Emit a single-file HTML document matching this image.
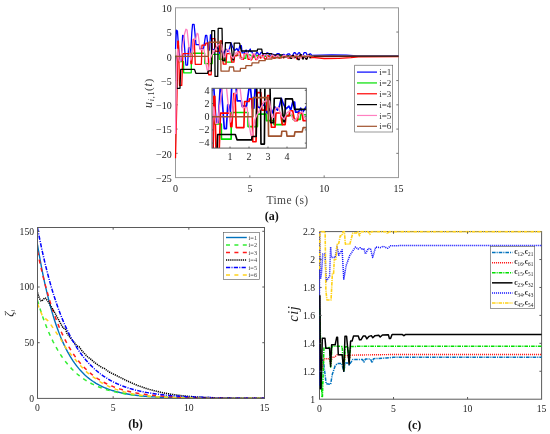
<!DOCTYPE html>
<html><head><meta charset="utf-8"><title>Figure</title>
<style>
html,body{margin:0;padding:0;background:#fff;}
body{width:550px;height:434px;position:relative;overflow:hidden;font-family:"Liberation Serif",serif;}
svg text{font-family:"Liberation Serif",serif;}
</style></head><body>
<svg width="550" height="434" viewBox="0 0 550 434" style="position:absolute;left:0;top:0">
<defs><clipPath id="ca"><rect x="174.5" y="7.3" width="224.5" height="170.8"/></clipPath>
<clipPath id="ci"><rect x="212" y="88.3" width="94.3" height="59.8"/></clipPath>
<clipPath id="cb"><rect x="37.5" y="226.5" width="228" height="173"/></clipPath>
<clipPath id="cc"><rect x="319" y="230.5" width="223.5" height="170"/></clipPath>
</defs>
<rect x="175.5" y="7.8" width="223" height="169.8" fill="none" stroke="#999" stroke-width="1"/>
<line x1="249.833" y1="177.6" x2="249.833" y2="175.4" stroke="#777" stroke-width="1"/>
<line x1="249.833" y1="7.8" x2="249.833" y2="10" stroke="#777" stroke-width="1"/>
<line x1="324.167" y1="177.6" x2="324.167" y2="175.4" stroke="#777" stroke-width="1"/>
<line x1="324.167" y1="7.8" x2="324.167" y2="10" stroke="#777" stroke-width="1"/>
<line x1="175.5" y1="32.0571" x2="177.7" y2="32.0571" stroke="#777" stroke-width="1"/>
<line x1="398.5" y1="32.0571" x2="396.3" y2="32.0571" stroke="#777" stroke-width="1"/>
<line x1="175.5" y1="56.3143" x2="177.7" y2="56.3143" stroke="#777" stroke-width="1"/>
<line x1="398.5" y1="56.3143" x2="396.3" y2="56.3143" stroke="#777" stroke-width="1"/>
<line x1="175.5" y1="80.5714" x2="177.7" y2="80.5714" stroke="#777" stroke-width="1"/>
<line x1="398.5" y1="80.5714" x2="396.3" y2="80.5714" stroke="#777" stroke-width="1"/>
<line x1="175.5" y1="104.829" x2="177.7" y2="104.829" stroke="#777" stroke-width="1"/>
<line x1="398.5" y1="104.829" x2="396.3" y2="104.829" stroke="#777" stroke-width="1"/>
<line x1="175.5" y1="129.086" x2="177.7" y2="129.086" stroke="#777" stroke-width="1"/>
<line x1="398.5" y1="129.086" x2="396.3" y2="129.086" stroke="#777" stroke-width="1"/>
<line x1="175.5" y1="153.343" x2="177.7" y2="153.343" stroke="#777" stroke-width="1"/>
<line x1="398.5" y1="153.343" x2="396.3" y2="153.343" stroke="#777" stroke-width="1"/>
<g clip-path="url(#ca)">
<polyline points="175.50,49.04 176.39,30.12 177.43,31.09 179.51,60.68 181.15,60.68 182.64,35.45 183.68,35.94 185.91,65.05 187.54,65.05 188.58,47.58 189.33,47.58 189.92,52.43 190.66,52.43 191.85,32.06 192.60,24.29 194.08,24.29 196.02,44.67 199.35,44.67 199.82,48.55 203.54,48.55 205.55,35.45 206.79,35.45 208.34,50.01 209.54,50.01 210.44,34.97 211.33,34.97 212.37,49.04 214.60,50.01 215.34,46.61 218.32,48.55 219.80,53.89 222.03,50.49 223.52,53.89 225.75,49.04 227.98,51.46 229.47,48.55 230.95,42.73 232.44,46.61 234.67,50.49 236.90,48.55 238.39,51.46 239.87,45.64 241.36,45.64 242.10,52.92 244.33,52.92 246.12,50.01 247.31,53.40 248.79,51.46 250.28,49.04 250.58,51.52 251.25,51.57 251.93,51.62 252.61,53.83 253.29,56.54 253.96,56.49 254.64,56.43 255.32,56.02 255.99,53.74 256.67,52.32 257.35,52.30 258.03,53.32 258.70,54.46 259.38,54.85 260.06,54.20 260.74,52.99 261.41,52.34 262.09,52.39 262.77,53.58 263.44,55.41 264.12,55.71 264.80,55.66 265.48,55.61 266.15,54.29 266.83,52.87 267.51,53.00 268.19,53.13 268.86,53.70 269.54,54.79 270.22,55.32 270.89,55.15 271.57,54.56 272.25,54.07 272.93,54.14 273.60,54.81 274.28,55.70 274.96,55.75 275.64,55.76 276.31,55.01 276.99,53.70 277.67,53.61 278.34,53.63 279.02,53.65 279.70,54.70 280.38,55.79 281.05,55.80 281.73,55.80 282.41,55.19 283.09,54.52 283.76,54.35 284.44,54.69 285.12,55.24 285.79,55.53 286.47,55.27 287.15,54.53 287.83,53.96 288.50,53.98 289.18,53.83 289.86,54.43 290.53,55.72 291.21,55.73 291.89,55.70 292.57,55.67 293.24,54.27 293.92,52.94 294.60,52.67 295.28,52.94 295.95,53.93 296.63,54.67 297.31,54.58 297.98,53.73 298.66,52.81 299.34,52.60 300.02,53.43 300.69,55.00 301.37,55.72 302.05,55.70 302.73,55.68 303.40,54.53 304.08,52.65 304.76,52.64 305.43,52.66 306.11,52.81 306.79,54.29 307.47,55.29 308.14,55.41 308.82,54.81 309.50,54.06 310.18,53.76 310.85,54.19 311.53,55.09 312.27,55.34 331.60,54.86 346.47,55.10 356.87,55.83 398.50,55.97" fill="none" stroke="#0000ff" stroke-width="1.3" stroke-linejoin="round" />
<polyline points="175.50,56.31 177.73,56.31 178.18,61.65 183.53,61.65 183.68,72.81 191.26,72.81 191.41,53.26 204.62,53.26 204.78,63.59 212.22,63.59 212.37,54.37 219.06,54.37 219.36,59.23 225.01,59.23 225.30,62.14 231.70,62.14 231.99,55.34 239.87,55.34 240.17,58.25 245.82,58.25 246.12,54.86 250.28,54.86 252.81,57.77 257.27,55.34 261.73,57.28 267.67,55.83 273.62,56.80 279.57,56.07 294.43,56.31 398.50,56.31" fill="none" stroke="#00e000" stroke-width="1.3" stroke-linejoin="round" />
<polyline points="175.50,158.19 176.99,95.13 177.73,41.27 178.47,41.27 179.51,85.42 181.74,85.42 182.93,53.65 190.37,53.65 190.96,63.59 191.85,63.59 193.34,39.33 194.23,39.33 195.27,64.32 201.37,64.32 201.99,45.16 205.55,45.16 205.86,43.22 208.03,43.22 208.65,74.75 211.18,74.75 212.07,38.61 214.90,38.61 215.79,51.46 219.06,51.46 220.25,40.79 221.74,40.79 223.22,64.08 226.05,64.08 226.79,53.60 230.36,53.60 231.70,62.14 233.93,62.14 234.67,55.83 236.90,55.83 237.64,51.95 239.87,51.95 241.36,59.23 243.59,59.23 244.33,53.65 247.31,53.65 248.05,59.23 250.28,59.23 250.58,59.03 251.16,60.09 251.75,59.56 252.33,57.32 252.91,54.63 253.50,54.68 254.08,54.73 254.67,54.97 255.25,58.12 255.84,59.70 256.42,59.65 257.01,59.60 257.59,58.20 258.18,56.25 258.76,55.50 259.35,56.06 259.93,57.25 260.51,58.05 261.10,57.83 261.68,56.68 262.27,55.40 262.85,55.45 263.44,55.67 264.02,57.47 264.61,58.97 265.19,58.92 265.78,58.87 266.36,58.55 266.94,56.66 267.53,55.83 268.11,55.85 268.70,55.86 269.28,56.93 269.87,57.77 270.45,57.88 271.04,57.36 271.62,56.69 272.21,56.45 272.79,56.93 273.37,57.92 273.96,58.38 274.54,58.36 275.13,58.27 275.71,56.85 276.30,55.91 276.88,55.92 277.47,55.92 278.05,56.30 278.64,57.65 279.22,58.24 279.80,58.23 280.39,57.86 280.97,57.04 281.56,56.61 282.14,56.79 282.73,57.37 283.31,57.86 283.90,57.81 284.48,57.10 285.07,56.06 285.65,55.96 286.24,55.96 286.82,56.06 287.40,57.35 287.99,58.02 288.57,58.02 289.16,58.10 289.74,57.63 290.33,56.51 290.91,55.91 291.50,56.04 292.08,56.77 292.67,57.51 293.25,57.69 293.83,57.15 294.42,56.24 295.00,55.77 295.59,56.02 296.17,57.39 296.76,58.93 297.34,58.98 297.93,58.97 298.51,58.69 299.10,56.58 299.68,55.65 300.26,55.67 300.85,55.68 301.43,56.78 302.02,58.07 302.60,58.50 303.19,58.02 303.77,57.17 304.36,56.66 304.94,56.94 305.53,57.88 306.11,58.73 306.69,58.70 307.28,58.49 307.86,56.98 308.45,55.85 309.03,55.86 309.62,55.86 310.20,56.22 310.79,57.89 312.27,57.28 324.17,58.50 339.03,58.35 350.93,57.53 358.36,56.80 398.50,56.70" fill="none" stroke="#ff0000" stroke-width="1.3" stroke-linejoin="round" />
<polyline points="175.50,56.31 176.24,56.31 176.69,88.33 179.96,88.33 180.70,69.41 194.53,69.41 195.87,73.29 207.72,73.29 208.03,70.87 211.33,70.87 211.77,30.60 214.60,30.60 215.05,76.45 217.72,76.45 218.17,28.42 222.03,28.42 222.63,60.68 224.86,60.68 225.45,42.73 230.66,42.73 232.89,59.95 233.63,59.95 234.22,43.22 239.58,43.22 241.36,50.98 250.28,50.98 257.27,50.98 257.56,49.04 261.73,49.04 262.47,53.65 271.39,53.65 272.13,54.86 282.54,54.86 283.28,57.55 283.80,57.18 284.31,56.58 284.83,56.34 285.34,56.54 285.86,56.98 286.37,57.25 286.89,57.09 287.40,56.50 287.91,55.93 288.43,55.93 288.94,55.88 289.46,56.42 289.97,57.81 290.49,58.10 291.00,58.27 291.52,58.43 292.03,57.03 292.55,55.57 293.06,55.30 293.58,55.64 294.09,56.87 294.60,57.74 295.12,57.55 295.63,56.35 296.15,55.01 296.66,54.73 297.18,56.17 297.69,58.86 298.21,59.67 298.72,59.65 299.24,59.63 299.75,57.09 300.27,54.50 300.78,54.53 301.29,54.55 301.81,55.37 302.32,57.79 302.84,59.10 303.35,58.84 303.87,57.55 304.38,56.36 304.90,56.26 305.41,57.38 305.93,58.97 306.44,59.30 306.96,59.20 307.47,57.12 307.98,54.85 308.50,54.87 309.01,54.89 309.53,55.09 310.04,57.78 310.79,56.31 398.50,56.31" fill="none" stroke="#000000" stroke-width="1.3" stroke-linejoin="round" />
<polyline points="175.50,133.94 176.69,61.17 177.73,49.04 179.22,61.17 180.70,61.17 182.19,49.04 184.42,34.48 185.91,29.15 187.10,30.12 188.88,46.61 190.81,60.20 192.15,53.89 194.08,39.33 195.57,39.33 197.06,33.27 198.11,34.00 200.13,49.52 204.00,49.52 205.55,61.17 207.10,69.90 208.34,69.90 210.14,58.74 211.63,55.34 214.60,50.49 217.57,45.16 219.06,44.67 221.74,44.67 223.52,56.31 225.01,56.80 226.49,50.01 228.72,49.52 230.95,55.83 233.18,58.25 235.41,53.40 237.64,51.95 239.87,57.77 242.10,59.23 244.33,54.86 247.31,52.43 248.79,56.31 250.28,58.25 250.58,59.64 251.35,58.38 252.12,55.10 252.89,53.68 253.67,53.75 254.44,53.82 255.21,55.45 255.99,58.64 256.76,59.09 257.53,59.02 258.30,58.49 259.08,56.44 259.85,55.27 260.62,55.43 261.39,56.49 262.17,57.46 262.94,57.51 263.71,56.49 264.48,54.99 265.26,54.79 266.03,54.86 266.80,55.59 267.58,57.53 268.35,58.05 269.12,57.97 269.89,57.96 270.67,56.97 271.44,55.45 272.21,55.17 272.98,55.18 273.76,55.87 274.53,56.78 275.30,57.11 276.07,56.73 276.85,56.01 277.62,55.57 278.39,55.83 279.17,56.79 279.94,57.76 280.71,57.75 281.48,57.74 282.26,57.17 283.03,55.65 283.80,55.33 284.57,55.34 285.35,55.35 286.12,56.30 286.89,57.35 287.67,57.62 288.44,57.38 289.21,56.70 289.98,56.16 290.76,56.18 291.53,56.78 292.30,57.54 293.07,57.81 293.85,57.30 294.62,56.02 295.39,55.17 296.16,55.14 296.94,55.12 297.71,55.87 298.48,57.68 299.26,57.96 300.03,57.94 300.80,57.92 301.57,56.61 302.35,55.64 303.12,55.48 303.89,56.03 304.66,56.74 305.44,57.04 306.21,56.65 306.98,55.81 307.75,55.31 308.53,55.33 309.30,55.82 310.79,56.31 398.50,56.31" fill="none" stroke="#ff80c0" stroke-width="1.3" stroke-linejoin="round" />
<polyline points="175.50,56.31 208.50,56.31 208.80,42.25 220.55,42.25 220.99,71.11 229.02,71.11 229.47,66.99 233.48,66.99 233.93,71.11 240.17,71.11 240.47,68.44 245.67,68.44 245.97,65.53 251.77,65.53 252.06,62.86 258.75,62.86 259.05,60.68 265.15,60.68 265.44,59.03 271.84,59.03 272.13,57.77 281.80,57.77 283.28,56.80 294.43,56.56 309.30,56.31 398.50,56.31" fill="none" stroke="#a0522d" stroke-width="1.3" stroke-linejoin="round" />
<polyline points="313.76,56.31 398.50,56.31" fill="none" stroke="#3a120c" stroke-width="1.1" stroke-linejoin="round" />
</g>
<rect x="198" y="84.3" width="110.3" height="77.8" fill="#fff" stroke="none"/>
<g clip-path="url(#ci)">
<polyline points="211.00,106.80 212.14,81.06 213.47,82.38 216.13,122.64 218.22,122.64 220.12,88.32 221.45,88.98 224.30,128.58 226.39,128.58 227.72,104.82 228.67,104.82 229.43,111.42 230.38,111.42 231.90,83.70 232.85,73.14 234.75,73.14 237.22,100.86 241.40,100.86 241.97,106.14 246.53,106.14 249.00,88.32 250.52,88.32 252.42,108.12 253.94,108.12 255.08,87.66 256.22,87.66 257.55,106.80 260.40,108.12 261.35,103.50 265.15,106.14 267.05,113.40 269.90,108.78 271.80,113.40 274.65,106.80 277.50,110.10 279.40,106.14 281.30,98.22 283.20,103.50 286.05,108.78 288.90,106.14 290.80,110.10 292.70,102.18 294.60,102.18 295.55,112.08 298.40,112.08 300.68,108.12 302.20,112.74 304.10,110.10 306.00,106.80 306.95,110.18 307.82,110.25" fill="none" stroke="#0000ff" stroke-width="1.65" stroke-linejoin="round" />
<polyline points="211.00,116.70 213.85,116.70 214.42,123.96 221.26,123.96 221.45,139.14 231.14,139.14 231.33,112.54 247.86,112.54 248.05,126.60 257.36,126.60 257.55,114.06 266.10,114.06 266.48,120.66 273.70,120.66 274.08,124.62 282.25,124.62 282.63,115.38 292.70,115.38 293.08,119.34 300.30,119.34 300.68,114.72 306.00,114.72 309.80,118.68 315.50,115.38" fill="none" stroke="#00e000" stroke-width="1.65" stroke-linejoin="round" />
<polyline points="211.00,255.30 212.90,169.50 213.85,96.24 214.80,96.24 216.13,156.30 218.98,156.30 220.50,113.07 230.00,113.07 230.76,126.60 231.90,126.60 233.80,93.60 234.94,93.60 236.27,127.59 243.87,127.59 244.63,101.52 249.00,101.52 249.38,98.88 252.04,98.88 252.80,141.78 256.03,141.78 257.17,92.61 260.78,92.61 261.92,110.10 266.10,110.10 267.62,95.58 269.52,95.58 271.42,127.26 275.03,127.26 275.98,113.00 280.54,113.00 282.25,124.62 285.10,124.62 286.05,116.04 288.90,116.04 289.85,110.76 292.70,110.76 294.60,120.66 297.45,120.66 298.40,113.07 302.20,113.07 303.15,120.66 306.00,120.66 306.95,120.40 307.70,121.83" fill="none" stroke="#ff0000" stroke-width="1.65" stroke-linejoin="round" />
<polyline points="211.00,116.70 211.95,116.70 212.52,160.26 216.70,160.26 217.65,134.52 235.32,134.52 237.03,139.80 251.66,139.80 252.04,136.50 256.22,136.50 256.79,81.72 260.40,81.72 260.97,144.09 264.39,144.09 264.96,78.75 269.90,78.75 270.66,122.64 273.51,122.64 274.27,98.22 280.92,98.22 283.77,121.65 284.72,121.65 285.48,98.88 292.32,98.88 294.60,109.44 306.00,109.44 315.50,109.44 315.88,106.80" fill="none" stroke="#000000" stroke-width="1.65" stroke-linejoin="round" />
<polyline points="211.00,222.30 212.52,123.30 213.85,106.80 215.75,123.30 217.65,123.30 219.55,106.80 222.40,87.00 224.30,79.74 225.82,81.06 228.10,103.50 230.57,121.98 232.28,113.40 234.75,93.60 236.65,93.60 238.55,85.35 239.88,86.34 242.35,107.46 247.10,107.46 249.00,123.30 250.90,135.18 252.42,135.18 254.70,120.00 256.60,115.38 260.40,108.78 264.20,101.52 266.10,100.86 269.52,100.86 271.80,116.70 273.70,117.36 275.60,108.12 278.45,107.46 281.30,116.04 284.15,119.34 287.00,112.74 289.85,110.76 292.70,118.68 295.55,120.66 298.40,114.72 302.20,111.42 304.10,116.70 306.00,119.34 306.95,121.23 307.94,119.51" fill="none" stroke="#ff80c0" stroke-width="1.35" stroke-linejoin="round" />
<polyline points="211.00,116.70 252.80,116.70 253.18,97.56 268.00,97.56 268.57,136.17 281.30,136.17 281.87,131.22 286.43,131.22 287.00,136.17 294.22,136.17 294.98,131.88 302.20,131.88 303.15,127.59 309.80,127.59" fill="none" stroke="#a0522d" stroke-width="1.65" stroke-linejoin="round" />
</g>
<rect x="212" y="88.3" width="94.3" height="59.8" fill="none" stroke="#5a5a5a" stroke-width="1"/>
<line x1="230" y1="148.1" x2="230" y2="146.6" stroke="#5a5a5a" stroke-width="1"/>
<line x1="249" y1="148.1" x2="249" y2="146.6" stroke="#5a5a5a" stroke-width="1"/>
<line x1="268" y1="148.1" x2="268" y2="146.6" stroke="#5a5a5a" stroke-width="1"/>
<line x1="287" y1="148.1" x2="287" y2="146.6" stroke="#5a5a5a" stroke-width="1"/>
<line x1="212" y1="90.3" x2="213.5" y2="90.3" stroke="#5a5a5a" stroke-width="1"/>
<line x1="306.3" y1="90.3" x2="304.8" y2="90.3" stroke="#5a5a5a" stroke-width="1"/>
<line x1="212" y1="103.5" x2="213.5" y2="103.5" stroke="#5a5a5a" stroke-width="1"/>
<line x1="306.3" y1="103.5" x2="304.8" y2="103.5" stroke="#5a5a5a" stroke-width="1"/>
<line x1="212" y1="116.7" x2="213.5" y2="116.7" stroke="#5a5a5a" stroke-width="1"/>
<line x1="306.3" y1="116.7" x2="304.8" y2="116.7" stroke="#5a5a5a" stroke-width="1"/>
<line x1="212" y1="129.9" x2="213.5" y2="129.9" stroke="#5a5a5a" stroke-width="1"/>
<line x1="306.3" y1="129.9" x2="304.8" y2="129.9" stroke="#5a5a5a" stroke-width="1"/>
<line x1="212" y1="143.1" x2="213.5" y2="143.1" stroke="#5a5a5a" stroke-width="1"/>
<line x1="306.3" y1="143.1" x2="304.8" y2="143.1" stroke="#5a5a5a" stroke-width="1"/>
<text x="171.7" y="12" font-size="10" text-anchor="end" fill="#222" font-family="Liberation Serif, serif" >10</text>
<text x="171.7" y="36.2571" font-size="10" text-anchor="end" fill="#222" font-family="Liberation Serif, serif" >5</text>
<text x="171.7" y="60.5143" font-size="10" text-anchor="end" fill="#222" font-family="Liberation Serif, serif" >0</text>
<text x="171.7" y="84.7714" font-size="10" text-anchor="end" fill="#222" font-family="Liberation Serif, serif" >−5</text>
<text x="171.7" y="109.029" font-size="10" text-anchor="end" fill="#222" font-family="Liberation Serif, serif" >−10</text>
<text x="171.7" y="133.286" font-size="10" text-anchor="end" fill="#222" font-family="Liberation Serif, serif" >−15</text>
<text x="171.7" y="157.543" font-size="10" text-anchor="end" fill="#222" font-family="Liberation Serif, serif" >−20</text>
<text x="171.7" y="181.8" font-size="10" text-anchor="end" fill="#222" font-family="Liberation Serif, serif" >−25</text>
<text x="175.6" y="191.6" font-size="10" text-anchor="middle" fill="#222" font-family="Liberation Serif, serif" >0</text>
<text x="249.933" y="191.6" font-size="10" text-anchor="middle" fill="#222" font-family="Liberation Serif, serif" >5</text>
<text x="324.267" y="191.6" font-size="10" text-anchor="middle" fill="#222" font-family="Liberation Serif, serif" >10</text>
<text x="398.6" y="191.6" font-size="10" text-anchor="middle" fill="#222" font-family="Liberation Serif, serif" >15</text>
<text x="287.5" y="203.6" font-size="11.5" text-anchor="middle" fill="#444" font-family="Liberation Serif, serif" letter-spacing="0.4">Time (s)</text>
<text transform="translate(151.5,93) rotate(-90)" font-size="12" letter-spacing="0.7" text-anchor="middle" fill="#333" font-family="Liberation Serif, serif"><tspan font-style="italic">u</tspan><tspan font-size="8" dy="2.2" font-style="italic">i</tspan><tspan font-size="8">,1</tspan><tspan dy="-2.2" font-size="11">(</tspan><tspan font-style="italic">t</tspan><tspan font-size="11">)</tspan></text>
<text x="209.5" y="93.6" font-size="10" text-anchor="end" fill="#222" font-family="Liberation Serif, serif" >4</text>
<text x="209.5" y="106.8" font-size="10" text-anchor="end" fill="#222" font-family="Liberation Serif, serif" >2</text>
<text x="209.5" y="120" font-size="10" text-anchor="end" fill="#222" font-family="Liberation Serif, serif" >0</text>
<text x="209.5" y="133.2" font-size="10" text-anchor="end" fill="#222" font-family="Liberation Serif, serif" >−2</text>
<text x="209.5" y="146.4" font-size="10" text-anchor="end" fill="#222" font-family="Liberation Serif, serif" >−4</text>
<text x="230" y="159.6" font-size="10" text-anchor="middle" fill="#222" font-family="Liberation Serif, serif" >1</text>
<text x="249" y="159.6" font-size="10" text-anchor="middle" fill="#222" font-family="Liberation Serif, serif" >2</text>
<text x="268" y="159.6" font-size="10" text-anchor="middle" fill="#222" font-family="Liberation Serif, serif" >3</text>
<text x="287" y="159.6" font-size="10" text-anchor="middle" fill="#222" font-family="Liberation Serif, serif" >4</text>
<rect x="354.7" y="65.2" width="38" height="66.8" fill="#fff" stroke="#555" stroke-width="0.6"/>
<line x1="357" y1="72.1" x2="377" y2="72.1" stroke="#0000ff" stroke-width="1.2"/>
<text x="379.2" y="75.2" font-size="9" text-anchor="start" fill="#333" font-family="Liberation Serif, serif" >i=1</text>
<line x1="357" y1="82.94" x2="377" y2="82.94" stroke="#00e000" stroke-width="1.2"/>
<text x="379.2" y="86.04" font-size="9" text-anchor="start" fill="#333" font-family="Liberation Serif, serif" >i=2</text>
<line x1="357" y1="93.78" x2="377" y2="93.78" stroke="#ff0000" stroke-width="1.2"/>
<text x="379.2" y="96.88" font-size="9" text-anchor="start" fill="#333" font-family="Liberation Serif, serif" >i=3</text>
<line x1="357" y1="104.62" x2="377" y2="104.62" stroke="#000000" stroke-width="1.2"/>
<text x="379.2" y="107.72" font-size="9" text-anchor="start" fill="#333" font-family="Liberation Serif, serif" >i=4</text>
<line x1="357" y1="115.46" x2="377" y2="115.46" stroke="#ff80c0" stroke-width="1.2"/>
<text x="379.2" y="118.56" font-size="9" text-anchor="start" fill="#333" font-family="Liberation Serif, serif" >i=5</text>
<line x1="357" y1="126.3" x2="377" y2="126.3" stroke="#a0522d" stroke-width="1.2"/>
<text x="379.2" y="129.4" font-size="9" text-anchor="start" fill="#333" font-family="Liberation Serif, serif" >i=6</text>
<text x="271.8" y="220.4" font-size="12" text-anchor="middle" fill="#111" font-family="Liberation Serif, serif" font-weight="bold">(a)</text>
<g clip-path="url(#cb)">
<polyline points="37.50,244.67 38.93,253.13 40.36,261.12 41.78,268.68 43.21,275.82 44.64,282.56 46.07,288.94 47.49,294.96 48.92,300.65 50.35,306.03 51.78,311.12 53.20,315.92 54.63,320.46 56.06,324.75 57.49,328.80 58.92,332.63 60.34,336.25 61.77,339.67 63.20,342.90 64.63,345.96 66.05,348.84 67.48,351.57 68.91,354.15 70.34,356.58 71.76,358.88 73.19,361.06 74.62,363.11 76.05,365.05 77.47,366.89 78.90,368.62 80.33,370.26 81.76,371.81 83.19,373.27 84.61,374.66 86.04,375.96 87.47,377.20 88.90,378.37 90.32,379.47 91.75,380.51 93.18,381.49 94.61,382.42 96.03,383.30 97.46,384.13 98.89,384.92 100.32,385.66 101.75,386.36 103.17,387.02 104.60,387.65 106.03,388.24 107.46,388.80 108.88,389.33 110.31,389.83 111.74,390.30 113.17,390.75 114.59,391.17 116.02,391.57 117.45,391.94 118.88,392.30 120.31,392.63 121.73,392.95 123.16,393.25 124.59,393.53 126.02,393.80 127.44,394.05 128.87,394.29 130.30,394.52 131.73,394.73 133.15,394.93 134.58,395.13 136.01,395.31 137.44,395.48 138.86,395.64 140.29,395.79 141.72,395.93 143.15,396.07 144.58,396.20 146.00,396.32 147.43,396.43 148.86,396.54 150.29,396.64 151.71,396.74 153.14,396.83 154.57,396.92 156.00,397.00 157.42,397.08 158.85,397.15 160.28,397.22 161.71,397.28 163.14,397.34 164.56,397.40 165.99,397.46 167.42,397.51 168.85,397.56 170.27,397.60 171.70,397.65 173.13,397.69 174.56,397.73 175.98,397.77 177.41,397.80 178.84,397.83 180.27,397.86 181.69,397.89 183.12,397.92 184.55,397.95 185.98,397.97 187.41,398.00 188.83,398.02 190.26,398.04 191.69,398.06 193.12,398.08 194.54,398.10 195.97,398.11 197.40,398.13 198.83,398.14 200.25,398.16 201.68,398.17 203.11,398.18 204.54,398.20 205.97,398.21 207.39,398.22 208.82,398.23 210.25,398.24 211.68,398.25 213.10,398.25 214.53,398.26 215.96,398.27 217.39,398.28 218.81,398.28 220.24,398.29 221.67,398.30 223.10,398.30 224.53,398.31 225.95,398.31 227.38,398.32 228.81,398.32 230.24,398.33 231.66,398.33 233.09,398.33 234.52,398.34 235.95,398.34 237.37,398.34 238.80,398.35 240.23,398.35 241.66,398.35 243.08,398.36 244.51,398.36 245.94,398.36 247.37,398.36 248.80,398.36 250.22,398.37 251.65,398.37 253.08,398.37 254.51,398.37 255.93,398.37 257.36,398.37 258.79,398.38 260.22,398.38 261.64,398.38 263.07,398.38 264.50,398.38" fill="none" stroke="#0072bd" stroke-width="1.4" stroke-linejoin="round" />
<polyline points="37.50,300.37 38.93,305.15 40.36,309.70 41.78,314.02 43.21,318.14 44.64,322.05 46.07,325.78 47.49,329.32 48.92,332.69 50.35,335.89 51.78,338.94 53.20,341.84 54.63,344.60 56.06,347.22 57.49,349.72 58.92,352.09 60.34,354.35 61.77,356.50 63.20,358.54 64.63,360.49 66.05,362.34 67.48,364.09 68.91,365.77 70.34,367.36 71.76,368.87 73.19,370.31 74.62,371.68 76.05,372.99 77.47,374.23 78.90,375.40 80.33,376.53 81.76,377.59 83.19,378.61 84.61,379.57 86.04,380.49 87.47,381.36 88.90,382.20 90.32,382.99 91.75,383.74 93.18,384.45 94.61,385.13 96.03,385.78 97.46,386.40 98.89,386.98 100.32,387.54 101.75,388.07 103.17,388.57 104.60,389.05 106.03,389.51 107.46,389.94 108.88,390.35 110.31,390.75 111.74,391.12 113.17,391.47 114.59,391.81 116.02,392.13 117.45,392.44 118.88,392.73 120.31,393.01 121.73,393.27 123.16,393.52 124.59,393.76 126.02,393.98 127.44,394.20 128.87,394.40 130.30,394.60 131.73,394.78 133.15,394.96 134.58,395.13 136.01,395.29 137.44,395.44 138.86,395.58 140.29,395.72 141.72,395.85 143.15,395.98 144.58,396.09 146.00,396.21 147.43,396.31 148.86,396.42 150.29,396.51 151.71,396.60 153.14,396.69 154.57,396.78 156.00,396.85 157.42,396.93 158.85,397.00 160.28,397.07 161.71,397.13 163.14,397.20 164.56,397.26 165.99,397.31 167.42,397.36 168.85,397.41 170.27,397.46 171.70,397.51 173.13,397.55 174.56,397.59 175.98,397.63 177.41,397.67 178.84,397.71 180.27,397.74 181.69,397.77 183.12,397.80 184.55,397.83 185.98,397.86 187.41,397.89 188.83,397.91 190.26,397.93 191.69,397.96 193.12,397.98 194.54,398.00 195.97,398.02 197.40,398.04 198.83,398.06 200.25,398.07 201.68,398.09 203.11,398.10 204.54,398.12 205.97,398.13 207.39,398.14 208.82,398.16 210.25,398.17 211.68,398.18 213.10,398.19 214.53,398.20 215.96,398.21 217.39,398.22 218.81,398.23 220.24,398.24 221.67,398.25 223.10,398.25 224.53,398.26 225.95,398.27 227.38,398.27 228.81,398.28 230.24,398.29 231.66,398.29 233.09,398.30 234.52,398.30 235.95,398.31 237.37,398.31 238.80,398.31 240.23,398.32 241.66,398.32 243.08,398.33 244.51,398.33 245.94,398.33 247.37,398.34 248.80,398.34 250.22,398.34 251.65,398.35 253.08,398.35 254.51,398.35 255.93,398.35 257.36,398.36 258.79,398.36 260.22,398.36 261.64,398.36 263.07,398.36 264.50,398.37" fill="none" stroke="#33ee33" stroke-width="1.5" stroke-dasharray="4,4.4" stroke-linejoin="round" />
<polyline points="37.50,251.35 38.93,258.19 40.36,264.72 41.78,270.94 43.21,276.87 44.64,282.52 46.07,287.91 47.49,293.05 48.92,297.95 50.35,302.63 51.78,307.08 53.20,311.33 54.63,315.38 56.06,319.24 57.49,322.93 58.92,326.44 60.34,329.79 61.77,332.98 63.20,336.02 64.63,338.92 66.05,341.69 67.48,344.33 68.91,346.85 70.34,349.24 71.76,351.53 73.19,353.71 74.62,355.79 76.05,357.77 77.47,359.66 78.90,361.47 80.33,363.18 81.76,364.82 83.19,366.38 84.61,367.87 86.04,369.29 87.47,370.65 88.90,371.94 90.32,373.17 91.75,374.34 93.18,375.46 94.61,376.53 96.03,377.55 97.46,378.52 98.89,379.44 100.32,380.32 101.75,381.17 103.17,381.97 104.60,382.73 106.03,383.46 107.46,384.16 108.88,384.82 110.31,385.45 111.74,386.05 113.17,386.63 114.59,387.18 116.02,387.70 117.45,388.20 118.88,388.67 120.31,389.12 121.73,389.55 123.16,389.97 124.59,390.36 126.02,390.73 127.44,391.09 128.87,391.43 130.30,391.75 131.73,392.06 133.15,392.36 134.58,392.64 136.01,392.91 137.44,393.16 138.86,393.41 140.29,393.64 141.72,393.86 143.15,394.07 144.58,394.27 146.00,394.46 147.43,394.65 148.86,394.82 150.29,394.99 151.71,395.15 153.14,395.30 154.57,395.44 156.00,395.58 157.42,395.71 158.85,395.84 160.28,395.96 161.71,396.07 163.14,396.18 164.56,396.28 165.99,396.38 167.42,396.47 168.85,396.56 170.27,396.65 171.70,396.73 173.13,396.81 174.56,396.88 175.98,396.95 177.41,397.02 178.84,397.08 180.27,397.15 181.69,397.20 183.12,397.26 184.55,397.31 185.98,397.36 187.41,397.41 188.83,397.46 190.26,397.50 191.69,397.54 193.12,397.58 194.54,397.62 195.97,397.66 197.40,397.69 198.83,397.72 200.25,397.76 201.68,397.79 203.11,397.81 204.54,397.84 205.97,397.87 207.39,397.89 208.82,397.92 210.25,397.94 211.68,397.96 213.10,397.98 214.53,398.00 215.96,398.02 217.39,398.04 218.81,398.05 220.24,398.07 221.67,398.08 223.10,398.10 224.53,398.11 225.95,398.13 227.38,398.14 228.81,398.15 230.24,398.16 231.66,398.17 233.09,398.18 234.52,398.19 235.95,398.20 237.37,398.21 238.80,398.22 240.23,398.23 241.66,398.24 243.08,398.25 244.51,398.25 245.94,398.26 247.37,398.27 248.80,398.27 250.22,398.28 251.65,398.28 253.08,398.29 254.51,398.29 255.93,398.30 257.36,398.30 258.79,398.31 260.22,398.31 261.64,398.32 263.07,398.32 264.50,398.32" fill="none" stroke="#ff1a1a" stroke-width="1.5" stroke-dasharray="4,4.4" stroke-linejoin="round" />
<polyline points="37.50,292.57 38.07,294.35 38.64,296.10 39.21,297.81 39.78,298.93 40.34,299.90 40.91,300.86 41.48,301.28 42.05,300.70 42.62,300.12 43.19,299.54 43.76,298.95 44.33,298.36 44.90,297.76 45.46,298.12 46.03,298.89 46.60,299.65 47.17,300.40 47.74,301.15 48.31,301.90 48.88,302.65 49.45,303.66 50.02,304.67 50.59,305.66 51.15,306.64 51.72,307.62 52.29,308.58 52.86,309.53 53.43,310.47 54.00,311.40 54.57,312.33 55.14,313.37 55.71,314.47 56.27,315.55 56.84,316.62 57.41,317.67 57.98,318.71 58.55,319.74 59.12,320.76 59.69,321.76 60.26,322.76 60.83,323.83 61.39,324.90 61.96,325.95 62.53,326.98 63.10,328.00 63.67,328.33 64.24,328.47 64.81,328.61 65.38,328.75 65.95,330.17 66.52,331.89 67.08,333.56 67.65,334.42 68.22,335.14 68.79,335.85 69.36,336.55 69.93,337.25 70.50,337.94 71.07,338.62 71.64,339.29 72.20,339.95 72.77,340.61 73.34,341.26 73.91,341.91 74.48,342.67 75.05,343.50 75.62,344.32 76.19,345.12 76.76,345.92 77.32,346.16 77.89,346.30 78.46,346.44 79.03,346.58 79.60,347.38 80.17,348.29 80.74,349.18 81.31,349.98 81.88,350.65 82.44,351.30 83.01,351.95 83.58,352.59 84.15,353.21 84.72,353.83 85.29,354.45 85.86,355.05 86.43,355.65 87.00,356.23 87.57,356.81 88.13,357.35 88.70,357.72 89.27,358.09 89.84,358.46 90.41,358.82 90.98,359.33 91.55,359.85 92.12,360.36 92.69,360.87 93.25,361.37 93.82,361.86 94.39,362.35 94.96,362.83 95.53,363.24 96.10,363.64 96.67,364.05 97.24,364.44 97.81,364.83 98.37,365.22 98.94,365.60 99.51,365.98 100.08,366.35 100.65,366.72 101.22,367.09 101.79,367.45 102.36,367.74 102.93,367.93 103.49,368.12 104.06,368.31 104.63,368.73 105.20,369.16 105.77,369.57 106.34,369.99 106.91,370.39 107.48,370.79 108.05,371.18 108.62,371.57 109.18,371.94 109.75,372.24 110.32,372.54 110.89,372.83 111.46,373.12 112.03,373.41 112.60,373.69 113.17,373.97 113.74,374.25 114.30,374.52 114.87,374.79 115.44,375.06 116.01,375.33 116.58,375.63 117.15,375.93 117.72,376.22 118.29,376.52 118.86,376.80 119.42,377.09 119.99,377.37 120.56,377.65 121.13,377.92 121.70,378.19 122.27,378.46 122.84,378.72 123.41,379.01 123.98,379.31 124.55,379.61 125.11,379.90 125.68,380.19 126.25,380.47 126.82,380.75 127.39,381.02 127.96,381.29 128.53,381.56 129.10,381.82 129.67,382.08 130.23,382.33 130.80,382.58 131.37,382.82 131.94,383.08 132.51,383.34 133.08,383.59 133.65,383.83 134.22,384.08 134.79,384.32 135.35,384.55 135.92,384.78 136.49,385.01 137.06,385.23 137.63,385.45 138.20,385.66 138.77,385.87 139.34,386.08 139.91,386.29 140.47,386.49 141.04,386.69 141.61,386.88 142.18,387.07 142.75,387.26 143.32,387.45 143.89,387.64 144.46,387.84 145.03,388.03 145.60,388.22 146.16,388.41 146.73,388.59 147.30,388.77 147.87,388.95 148.44,389.12 149.01,389.29 149.58,389.45 150.15,389.62 150.72,389.78 151.28,389.94 151.85,390.09 152.42,390.24 152.99,390.39 153.56,390.54 154.13,390.68 154.70,390.82 155.27,390.96 155.84,391.10 156.40,391.23 156.97,391.36 157.54,391.49 158.11,391.62 158.68,391.74 159.25,391.89 159.82,392.02 160.39,392.16 160.96,392.29 161.53,392.42 162.09,392.54 162.66,392.67 163.23,392.79 163.80,392.91 164.37,393.02 164.94,393.14 165.51,393.25 166.08,393.36 166.65,393.46 167.21,393.57 167.78,393.67 168.35,393.77 168.92,393.87 169.49,393.96 170.06,394.06 170.63,394.15 171.20,394.24 171.77,394.33 172.33,394.41 172.90,394.50 173.47,394.58 174.04,394.67 174.61,394.75 175.18,394.84 175.75,394.92 176.32,395.01 176.89,395.09 177.45,395.17 178.02,395.24 178.59,395.32 179.16,395.39 179.73,395.46 180.30,395.53 180.87,395.60 181.44,395.66 182.01,395.73 182.58,395.79 183.14,395.85 183.71,395.91 184.28,395.97 184.85,396.03 185.42,396.09 185.99,396.14 186.56,396.19 187.13,396.25 187.70,396.30 188.26,396.35 188.83,396.39 189.40,396.45 189.97,396.50 190.54,396.55 191.11,396.59 191.68,396.64 192.25,396.69 192.82,396.73 193.38,396.77 193.95,396.81 194.52,396.85 195.09,396.89 195.66,396.93 196.23,396.97 196.80,397.01 197.37,397.04 197.94,397.08 198.51,397.11 199.07,397.15 199.64,397.18 200.21,397.21 200.78,397.24 201.35,397.27 201.92,397.30 202.49,397.33 203.06,397.35 203.63,397.38 204.19,397.41 204.76,397.44 205.33,397.47 205.90,397.50 206.47,397.52 207.04,397.55 207.61,397.58 208.18,397.60 208.75,397.62 209.31,397.65 209.88,397.67 210.45,397.69 211.02,397.71 211.59,397.73 212.16,397.75 212.73,397.77 213.30,397.79 213.87,397.81 214.43,397.83 215.00,397.85 215.57,397.86 216.14,397.88 216.71,397.89 217.28,397.91 217.85,397.92 218.42,397.94 218.99,397.95 219.56,397.96 220.12,397.97 220.69,397.99 221.26,398.00 221.83,398.01 222.40,398.02 222.97,398.03 223.54,398.04 224.11,398.05 224.68,398.05 225.24,398.06 225.81,398.07 226.38,398.08 226.95,398.09 227.52,398.10 228.09,398.10 228.66,398.11 229.23,398.12 229.80,398.13 230.36,398.13 230.93,398.14 231.50,398.15 232.07,398.15 232.64,398.16 233.21,398.17 233.78,398.17 234.35,398.18 234.92,398.18 235.48,398.19 236.05,398.20 236.62,398.20 237.19,398.21 237.76,398.21 238.33,398.22 238.90,398.22 239.47,398.22 240.04,398.23 240.61,398.23 241.17,398.24 241.74,398.24 242.31,398.25 242.88,398.25 243.45,398.25 244.02,398.26 244.59,398.26 245.16,398.26 245.73,398.27 246.29,398.27 246.86,398.28 247.43,398.28 248.00,398.28 248.57,398.28 249.14,398.29 249.71,398.29 250.28,398.29 250.85,398.30 251.41,398.30 251.98,398.30 252.55,398.30 253.12,398.31 253.69,398.31 254.26,398.31 254.83,398.31 255.40,398.32 255.97,398.32 256.54,398.32 257.10,398.32 257.67,398.32 258.24,398.33 258.81,398.33 259.38,398.33 259.95,398.33 260.52,398.33 261.09,398.33 261.66,398.34 262.22,398.34 262.79,398.34 263.36,398.34 263.93,398.34 264.50,398.34" fill="none" stroke="#000000" stroke-width="1.55" stroke-dasharray="1.2,0.9" stroke-linejoin="round" />
<polyline points="37.50,227.96 38.93,235.29 40.36,242.30 41.78,249.02 43.21,255.44 44.64,261.59 46.07,267.48 47.49,273.11 48.92,278.50 50.35,283.65 51.78,288.59 53.20,293.31 54.63,297.83 56.06,302.16 57.49,306.30 58.92,310.26 60.34,314.05 61.77,317.68 63.20,321.15 64.63,324.47 66.05,327.65 67.48,330.69 68.91,333.61 70.34,336.39 71.76,339.06 73.19,341.61 74.62,344.05 76.05,346.39 77.47,348.63 78.90,350.77 80.33,352.82 81.76,354.78 83.19,356.65 84.61,358.45 86.04,360.17 87.47,361.81 88.90,363.39 90.32,364.89 91.75,366.33 93.18,367.71 94.61,369.03 96.03,370.30 97.46,371.50 98.89,372.66 100.32,373.77 101.75,374.83 103.17,375.84 104.60,376.81 106.03,377.74 107.46,378.63 108.88,379.48 110.31,380.29 111.74,381.07 113.17,381.82 114.59,382.53 116.02,383.21 117.45,383.87 118.88,384.49 120.31,385.09 121.73,385.66 123.16,386.21 124.59,386.73 126.02,387.24 127.44,387.72 128.87,388.18 130.30,388.62 131.73,389.04 133.15,389.44 134.58,389.82 136.01,390.19 137.44,390.55 138.86,390.88 140.29,391.21 141.72,391.52 143.15,391.81 144.58,392.10 146.00,392.37 147.43,392.63 148.86,392.87 150.29,393.11 151.71,393.34 153.14,393.56 154.57,393.77 156.00,393.97 157.42,394.16 158.85,394.34 160.28,394.51 161.71,394.68 163.14,394.84 164.56,394.99 165.99,395.14 167.42,395.28 168.85,395.41 170.27,395.54 171.70,395.67 173.13,395.78 174.56,395.90 175.98,396.00 177.41,396.11 178.84,396.21 180.27,396.30 181.69,396.39 183.12,396.48 184.55,396.56 185.98,396.64 187.41,396.71 188.83,396.79 190.26,396.86 191.69,396.92 193.12,396.99 194.54,397.05 195.97,397.10 197.40,397.16 198.83,397.21 200.25,397.26 201.68,397.31 203.11,397.36 204.54,397.41 205.97,397.45 207.39,397.49 208.82,397.53 210.25,397.57 211.68,397.60 213.10,397.64 214.53,397.67 215.96,397.70 217.39,397.73 218.81,397.76 220.24,397.79 221.67,397.81 223.10,397.84 224.53,397.86 225.95,397.89 227.38,397.91 228.81,397.93 230.24,397.95 231.66,397.97 233.09,397.99 234.52,398.00 235.95,398.02 237.37,398.04 238.80,398.05 240.23,398.07 241.66,398.08 243.08,398.10 244.51,398.11 245.94,398.12 247.37,398.13 248.80,398.15 250.22,398.16 251.65,398.17 253.08,398.18 254.51,398.19 255.93,398.20 257.36,398.20 258.79,398.21 260.22,398.22 261.64,398.23 263.07,398.24 264.50,398.24" fill="none" stroke="#0000ff" stroke-width="1.5" stroke-dasharray="4.2,1.3,1,1.3" stroke-linejoin="round" />
<polyline points="37.50,303.71 38.64,306.64 39.78,309.48 40.92,312.23 42.06,314.88 43.20,316.15 44.34,317.41 45.48,318.57 46.63,319.59 47.77,320.59 48.91,321.63 50.05,323.43 51.19,325.20 52.33,326.92 53.47,328.60 54.61,330.25 55.75,331.95 56.89,333.62 58.03,335.26 59.17,336.85 60.31,338.45 61.45,340.50 62.60,342.47 63.74,344.38 64.88,346.22 66.02,348.00 67.16,349.71 68.30,351.19 69.44,352.63 70.58,354.02 71.72,355.37 72.86,356.67 74.00,357.94 75.14,359.40 76.28,360.84 77.42,362.22 78.57,363.55 79.71,364.83 80.85,366.07 81.99,367.31 83.13,368.52 84.27,369.68 85.41,370.80 86.55,371.88 87.69,372.91 88.83,373.83 89.97,374.69 91.11,375.51 92.25,376.31 93.39,377.08 94.54,377.83 95.68,378.64 96.82,379.50 97.96,380.32 99.10,381.10 100.24,381.85 101.38,382.56 102.52,383.25 103.66,383.90 104.80,384.52 105.94,385.10 107.08,385.66 108.22,386.19 109.36,386.70 110.51,387.19 111.65,387.66 112.79,388.11 113.93,388.55 115.07,388.99 116.21,389.41 117.35,389.80 118.49,390.18 119.63,390.55 120.77,390.89 121.91,391.23 123.05,391.54 124.19,391.85 125.33,392.14 126.47,392.41 127.62,392.68 128.76,392.94 129.90,393.20 131.04,393.45 132.18,393.69 133.32,393.92 134.46,394.13 135.60,394.34 136.74,394.53 137.88,394.72 139.02,394.90 140.16,395.06 141.30,395.22 142.44,395.38 143.59,395.52 144.73,395.67 145.87,395.81 147.01,395.94 148.15,396.07 149.29,396.18 150.43,396.30 151.57,396.40 152.71,396.51 153.85,396.60 154.99,396.69 156.13,396.78 157.27,396.86 158.41,396.94 159.56,397.01 160.70,397.07 161.84,397.13 162.98,397.19 164.12,397.25 165.26,397.30 166.40,397.35 167.54,397.40 168.68,397.44 169.82,397.49 170.96,397.53 172.10,397.57 173.24,397.61 174.38,397.64 175.53,397.68 176.67,397.72 177.81,397.75 178.95,397.79 180.09,397.82 181.23,397.85 182.37,397.88 183.51,397.90 184.65,397.93 185.79,397.95 186.93,397.97 188.07,398.00 189.21,398.02 190.35,398.03 191.49,398.05 192.64,398.06 193.78,398.08 194.92,398.09 196.06,398.10 197.20,398.12 198.34,398.13 199.48,398.14 200.62,398.15 201.76,398.16 202.90,398.17 204.04,398.18 205.18,398.19 206.32,398.20 207.46,398.21 208.61,398.22 209.75,398.22 210.89,398.23 212.03,398.24 213.17,398.24 214.31,398.25 215.45,398.26 216.59,398.26 217.73,398.27 218.87,398.27 220.01,398.28 221.15,398.29 222.29,398.29 223.43,398.29 224.58,398.30 225.72,398.30 226.86,398.31 228.00,398.31 229.14,398.32 230.28,398.32 231.42,398.32 232.56,398.33 233.70,398.33 234.84,398.33 235.98,398.33 237.12,398.34 238.26,398.34 239.40,398.34 240.55,398.34 241.69,398.35 242.83,398.35 243.97,398.35 245.11,398.35 246.25,398.36 247.39,398.36 248.53,398.36 249.67,398.36 250.81,398.36 251.95,398.36 253.09,398.37 254.23,398.37 255.37,398.37 256.52,398.37 257.66,398.37 258.80,398.37 259.94,398.37 261.08,398.37 262.22,398.38 263.36,398.38 264.50,398.38" fill="none" stroke="#ffd21a" stroke-width="1.5" stroke-dasharray="4,4.4" stroke-linejoin="round" />
</g>
<rect x="37.5" y="227.5" width="227" height="170.9" fill="none" stroke="#5a5a5a" stroke-width="1"/>
<line x1="113.167" y1="398.4" x2="113.167" y2="396.2" stroke="#5a5a5a" stroke-width="1"/>
<line x1="113.167" y1="227.5" x2="113.167" y2="229.7" stroke="#5a5a5a" stroke-width="1"/>
<line x1="188.833" y1="398.4" x2="188.833" y2="396.2" stroke="#5a5a5a" stroke-width="1"/>
<line x1="188.833" y1="227.5" x2="188.833" y2="229.7" stroke="#5a5a5a" stroke-width="1"/>
<line x1="37.5" y1="342.7" x2="39.7" y2="342.7" stroke="#5a5a5a" stroke-width="1"/>
<line x1="264.5" y1="342.7" x2="262.3" y2="342.7" stroke="#5a5a5a" stroke-width="1"/>
<line x1="37.5" y1="287" x2="39.7" y2="287" stroke="#5a5a5a" stroke-width="1"/>
<line x1="264.5" y1="287" x2="262.3" y2="287" stroke="#5a5a5a" stroke-width="1"/>
<line x1="37.5" y1="231.3" x2="39.7" y2="231.3" stroke="#5a5a5a" stroke-width="1"/>
<line x1="264.5" y1="231.3" x2="262.3" y2="231.3" stroke="#5a5a5a" stroke-width="1"/>
<text x="34.1" y="401.7" font-size="9.7" text-anchor="end" fill="#222" font-family="Liberation Serif, serif" >0</text>
<text x="34.1" y="346" font-size="9.7" text-anchor="end" fill="#222" font-family="Liberation Serif, serif" >50</text>
<text x="34.1" y="290.3" font-size="9.7" text-anchor="end" fill="#222" font-family="Liberation Serif, serif" >100</text>
<text x="34.1" y="234.6" font-size="9.7" text-anchor="end" fill="#222" font-family="Liberation Serif, serif" >150</text>
<text x="37.5" y="411.2" font-size="9.7" text-anchor="middle" fill="#222" font-family="Liberation Serif, serif" >0</text>
<text x="113.167" y="411.2" font-size="9.7" text-anchor="middle" fill="#222" font-family="Liberation Serif, serif" >5</text>
<text x="188.833" y="411.2" font-size="9.7" text-anchor="middle" fill="#222" font-family="Liberation Serif, serif" >10</text>
<text x="264.5" y="411.2" font-size="9.7" text-anchor="middle" fill="#222" font-family="Liberation Serif, serif" >15</text>
<text transform="translate(13,313.3) rotate(-90)" font-size="12.5" text-anchor="middle" fill="#222" font-family="Liberation Serif, serif"><tspan font-style="italic">ζ</tspan><tspan font-size="7" dy="2" font-style="italic">i</tspan></text>
<rect x="223.6" y="232.5" width="36" height="47.1" fill="#fff" stroke="#555" stroke-width="0.6"/>
<line x1="226" y1="237.5" x2="246.8" y2="237.5" stroke="#0072bd" stroke-width="1.4"/>
<text x="248.6" y="239.6" font-size="6.3" text-anchor="start" fill="#444" font-family="Liberation Serif, serif" >i=1</text>
<line x1="226" y1="245" x2="246.8" y2="245" stroke="#33ee33" stroke-width="1.5" stroke-dasharray="4,4.4"/>
<text x="248.6" y="247.1" font-size="6.3" text-anchor="start" fill="#444" font-family="Liberation Serif, serif" >i=2</text>
<line x1="226" y1="252.5" x2="246.8" y2="252.5" stroke="#ff1a1a" stroke-width="1.5" stroke-dasharray="4,4.4"/>
<text x="248.6" y="254.6" font-size="6.3" text-anchor="start" fill="#444" font-family="Liberation Serif, serif" >i=3</text>
<line x1="226" y1="260" x2="246.8" y2="260" stroke="#000000" stroke-width="1.55" stroke-dasharray="1.2,0.9"/>
<text x="248.6" y="262.1" font-size="6.3" text-anchor="start" fill="#444" font-family="Liberation Serif, serif" >i=4</text>
<line x1="226" y1="267.5" x2="246.8" y2="267.5" stroke="#0000ff" stroke-width="1.5" stroke-dasharray="4.2,1.3,1,1.3"/>
<text x="248.6" y="269.6" font-size="6.3" text-anchor="start" fill="#444" font-family="Liberation Serif, serif" >i=5</text>
<line x1="226" y1="275" x2="246.8" y2="275" stroke="#ffd21a" stroke-width="1.5" stroke-dasharray="4,4.4"/>
<text x="248.6" y="277.1" font-size="6.3" text-anchor="start" fill="#444" font-family="Liberation Serif, serif" >i=6</text>
<text x="135.5" y="428" font-size="12" text-anchor="middle" fill="#111" font-family="Liberation Serif, serif" font-weight="bold">(b)</text>
<rect x="319.5" y="231.6" width="222.1" height="167.6" fill="none" stroke="#5a5a5a" stroke-width="1"/>
<g clip-path="url(#cc)">
<polyline points="319.50,315.40 319.94,315.40 320.39,388.03 321.28,388.03 321.87,360.09 323.20,360.09 324.68,371.27 326.16,383.84 330.61,384.26 332.38,374.06 335.20,365.68 337.27,363.59 341.71,363.59 343.78,371.27 345.41,362.89 347.63,362.89 349.11,364.98 352.81,359.39 362.44,359.39 363.92,362.19 365.40,359.12 370.58,359.12 372.06,362.89 373.54,358.70 386.13,358.00 393.53,357.30 541.60,357.30" fill="none" stroke="#0072bd" stroke-width="1.5" stroke-dasharray="3.6,1,1.1,1" stroke-linejoin="round" />
<polyline points="319.50,315.40 319.94,315.40 320.54,371.27 321.72,371.27 323.94,358.70 329.57,358.70 330.61,364.28 332.09,357.30 334.31,357.30 337.27,354.79 342.45,354.79 343.78,364.28 345.41,355.62 347.93,355.62 349.11,360.09 350.59,355.20 363.92,354.93 393.53,354.51 541.60,354.51" fill="none" stroke="#ff1a1a" stroke-width="1.4" stroke-dasharray="1.1,0.9" stroke-linejoin="round" />
<polyline points="319.50,308.42 320.24,329.37 321.87,396.41 322.46,396.41 323.94,348.08 329.57,347.52 330.61,367.08 332.09,346.13 342.15,346.41 343.78,371.27 345.41,346.82 347.93,346.82 349.11,361.49 350.59,346.41 393.53,346.13 541.60,346.13" fill="none" stroke="#00e000" stroke-width="1.5" stroke-dasharray="3.6,1,1.1,1" stroke-linejoin="round" />
<polyline points="319.50,385.23 319.50,231.60 319.80,231.60 320.54,279.09 321.42,273.50 322.76,253.95 324.98,253.95 326.31,281.18 329.57,276.29 330.61,246.96 331.49,257.44 335.20,257.44 336.97,246.26 338.75,255.34 340.23,252.55 342.15,249.76 343.78,279.09 346.15,265.54 349.85,255.34 355.48,246.96 358.00,249.06 360.22,247.66 362.44,249.76 363.92,248.36 365.40,253.95 368.36,248.36 370.58,249.06 372.66,257.44 375.77,246.96 380.21,247.66 383.17,246.26 387.61,248.36 390.57,245.85 400.94,245.57 541.60,245.57" fill="none" stroke="#1a1aff" stroke-width="1.5" stroke-dasharray="1.1,0.9" stroke-linejoin="round" />
<polyline points="319.50,269.31 319.94,231.60 325.13,231.60 325.87,290.26 326.90,300.04 331.05,300.04 332.38,273.50 333.57,273.50 334.31,259.53 335.79,259.53 337.27,243.47 338.75,243.47 340.23,235.79 341.71,235.79 343.19,231.60 344.38,231.60 345.41,244.17 349.85,244.17 352.81,233.00 356.52,233.00 358.00,231.60 359.48,235.79 360.96,231.60 368.36,231.60 369.84,234.39 371.32,231.60 386.13,231.60 387.61,233.69 389.09,231.60 541.60,231.60" fill="none" stroke="#ffd21a" stroke-width="1.6" stroke-dasharray="3.6,0.9,1.1,0.9" stroke-linejoin="round" />
<polyline points="319.50,295.85 319.94,295.85 320.39,388.86 320.98,388.86 322.31,338.31 324.98,338.31 325.87,348.36 329.57,348.36 330.61,366.38 331.64,344.73 335.20,344.73 336.68,337.33 337.56,337.33 338.30,354.79 342.15,354.79 343.78,371.27 344.97,336.35 346.60,336.35 349.11,364.28 350.59,341.10 352.07,341.10 353.56,336.07 358.29,336.07 359.48,339.84 360.96,339.84 363.18,336.07 365.40,336.07 366.88,338.86 369.10,336.35 371.32,335.65 372.80,337.75 375.02,335.65 378.73,335.23 380.21,337.05 382.43,334.95 388.35,334.67 389.39,338.44 390.57,338.44 392.05,334.53 402.42,334.53 403.90,335.65 405.38,334.53 541.60,334.53" fill="none" stroke="#000000" stroke-width="1.5" stroke-linejoin="round" />
</g>
<line x1="393.533" y1="399.2" x2="393.533" y2="397" stroke="#5a5a5a" stroke-width="1"/>
<line x1="393.533" y1="231.6" x2="393.533" y2="233.8" stroke="#5a5a5a" stroke-width="1"/>
<line x1="467.567" y1="399.2" x2="467.567" y2="397" stroke="#5a5a5a" stroke-width="1"/>
<line x1="467.567" y1="231.6" x2="467.567" y2="233.8" stroke="#5a5a5a" stroke-width="1"/>
<line x1="319.5" y1="371.267" x2="321.7" y2="371.267" stroke="#5a5a5a" stroke-width="1"/>
<line x1="541.6" y1="371.267" x2="539.4" y2="371.267" stroke="#5a5a5a" stroke-width="1"/>
<line x1="319.5" y1="343.333" x2="321.7" y2="343.333" stroke="#5a5a5a" stroke-width="1"/>
<line x1="541.6" y1="343.333" x2="539.4" y2="343.333" stroke="#5a5a5a" stroke-width="1"/>
<line x1="319.5" y1="315.4" x2="321.7" y2="315.4" stroke="#5a5a5a" stroke-width="1"/>
<line x1="541.6" y1="315.4" x2="539.4" y2="315.4" stroke="#5a5a5a" stroke-width="1"/>
<line x1="319.5" y1="287.467" x2="321.7" y2="287.467" stroke="#5a5a5a" stroke-width="1"/>
<line x1="541.6" y1="287.467" x2="539.4" y2="287.467" stroke="#5a5a5a" stroke-width="1"/>
<line x1="319.5" y1="259.533" x2="321.7" y2="259.533" stroke="#5a5a5a" stroke-width="1"/>
<line x1="541.6" y1="259.533" x2="539.4" y2="259.533" stroke="#5a5a5a" stroke-width="1"/>
<text x="315.1" y="402.8" font-size="9.7" text-anchor="end" fill="#222" font-family="Liberation Serif, serif" >1</text>
<text x="315.1" y="374.867" font-size="9.7" text-anchor="end" fill="#222" font-family="Liberation Serif, serif" >1.2</text>
<text x="315.1" y="346.933" font-size="9.7" text-anchor="end" fill="#222" font-family="Liberation Serif, serif" >1.4</text>
<text x="315.1" y="319" font-size="9.7" text-anchor="end" fill="#222" font-family="Liberation Serif, serif" >1.6</text>
<text x="315.1" y="291.067" font-size="9.7" text-anchor="end" fill="#222" font-family="Liberation Serif, serif" >1.8</text>
<text x="315.1" y="263.133" font-size="9.7" text-anchor="end" fill="#222" font-family="Liberation Serif, serif" >2</text>
<text x="315.1" y="235.2" font-size="9.7" text-anchor="end" fill="#222" font-family="Liberation Serif, serif" >2.2</text>
<text x="319.5" y="412.2" font-size="9.7" text-anchor="middle" fill="#222" font-family="Liberation Serif, serif" >0</text>
<text x="393.533" y="412.2" font-size="9.7" text-anchor="middle" fill="#222" font-family="Liberation Serif, serif" >5</text>
<text x="467.567" y="412.2" font-size="9.7" text-anchor="middle" fill="#222" font-family="Liberation Serif, serif" >10</text>
<text x="541.6" y="412.2" font-size="9.7" text-anchor="middle" fill="#222" font-family="Liberation Serif, serif" >15</text>
<text transform="translate(298.4,313.8) rotate(-90)" font-size="14.5" letter-spacing="0.5" text-anchor="middle" fill="#222" font-family="Liberation Serif, serif" font-style="italic">cij</text>
<rect x="490.3" y="246.5" width="44.4" height="62" fill="#fff" stroke="#555" stroke-width="0.6"/>
<line x1="492" y1="252.6" x2="512.5" y2="252.6" stroke="#0072bd" stroke-width="1.5" stroke-dasharray="3.6,1,1.1,1"/>
<text x="514.2" y="254.3" font-size="7.6" fill="#222" font-family="Liberation Serif, serif"><tspan font-weight="bold">c</tspan><tspan font-size="5.2" dy="2">12</tspan><tspan dy="-2">,</tspan><tspan font-weight="bold">c</tspan><tspan font-size="5.2" dy="2">21</tspan></text>
<line x1="492" y1="262.68" x2="512.5" y2="262.68" stroke="#ff1a1a" stroke-width="1.4" stroke-dasharray="1.1,0.9"/>
<text x="514.2" y="264.38" font-size="7.6" fill="#222" font-family="Liberation Serif, serif"><tspan font-weight="bold">c</tspan><tspan font-size="5.2" dy="2">16</tspan><tspan dy="-2">,</tspan><tspan font-weight="bold">c</tspan><tspan font-size="5.2" dy="2">61</tspan></text>
<line x1="492" y1="272.76" x2="512.5" y2="272.76" stroke="#00e000" stroke-width="1.5" stroke-dasharray="3.6,1,1.1,1"/>
<text x="514.2" y="274.46" font-size="7.6" fill="#222" font-family="Liberation Serif, serif"><tspan font-weight="bold">c</tspan><tspan font-size="5.2" dy="2">15</tspan><tspan dy="-2">,</tspan><tspan font-weight="bold">c</tspan><tspan font-size="5.2" dy="2">51</tspan></text>
<line x1="492" y1="282.84" x2="512.5" y2="282.84" stroke="#000000" stroke-width="1.5"/>
<text x="514.2" y="284.54" font-size="7.6" fill="#222" font-family="Liberation Serif, serif"><tspan font-weight="bold">c</tspan><tspan font-size="5.2" dy="2">23</tspan><tspan dy="-2">,</tspan><tspan font-weight="bold">c</tspan><tspan font-size="5.2" dy="2">32</tspan></text>
<line x1="492" y1="292.92" x2="512.5" y2="292.92" stroke="#1a1aff" stroke-width="1.5" stroke-dasharray="1.1,0.9"/>
<text x="514.2" y="294.62" font-size="7.6" fill="#222" font-family="Liberation Serif, serif"><tspan font-weight="bold">c</tspan><tspan font-size="5.2" dy="2">34</tspan><tspan dy="-2">,</tspan><tspan font-weight="bold">c</tspan><tspan font-size="5.2" dy="2">43</tspan></text>
<line x1="492" y1="303" x2="512.5" y2="303" stroke="#ffd21a" stroke-width="1.6" stroke-dasharray="3.6,0.9,1.1,0.9"/>
<text x="514.2" y="304.7" font-size="7.6" fill="#222" font-family="Liberation Serif, serif"><tspan font-weight="bold">c</tspan><tspan font-size="5.2" dy="2">45</tspan><tspan dy="-2">,</tspan><tspan font-weight="bold">c</tspan><tspan font-size="5.2" dy="2">54</tspan></text>
<text x="414.7" y="429.2" font-size="12" text-anchor="middle" fill="#111" font-family="Liberation Serif, serif" font-weight="bold">(c)</text>
</svg>
</body></html>
